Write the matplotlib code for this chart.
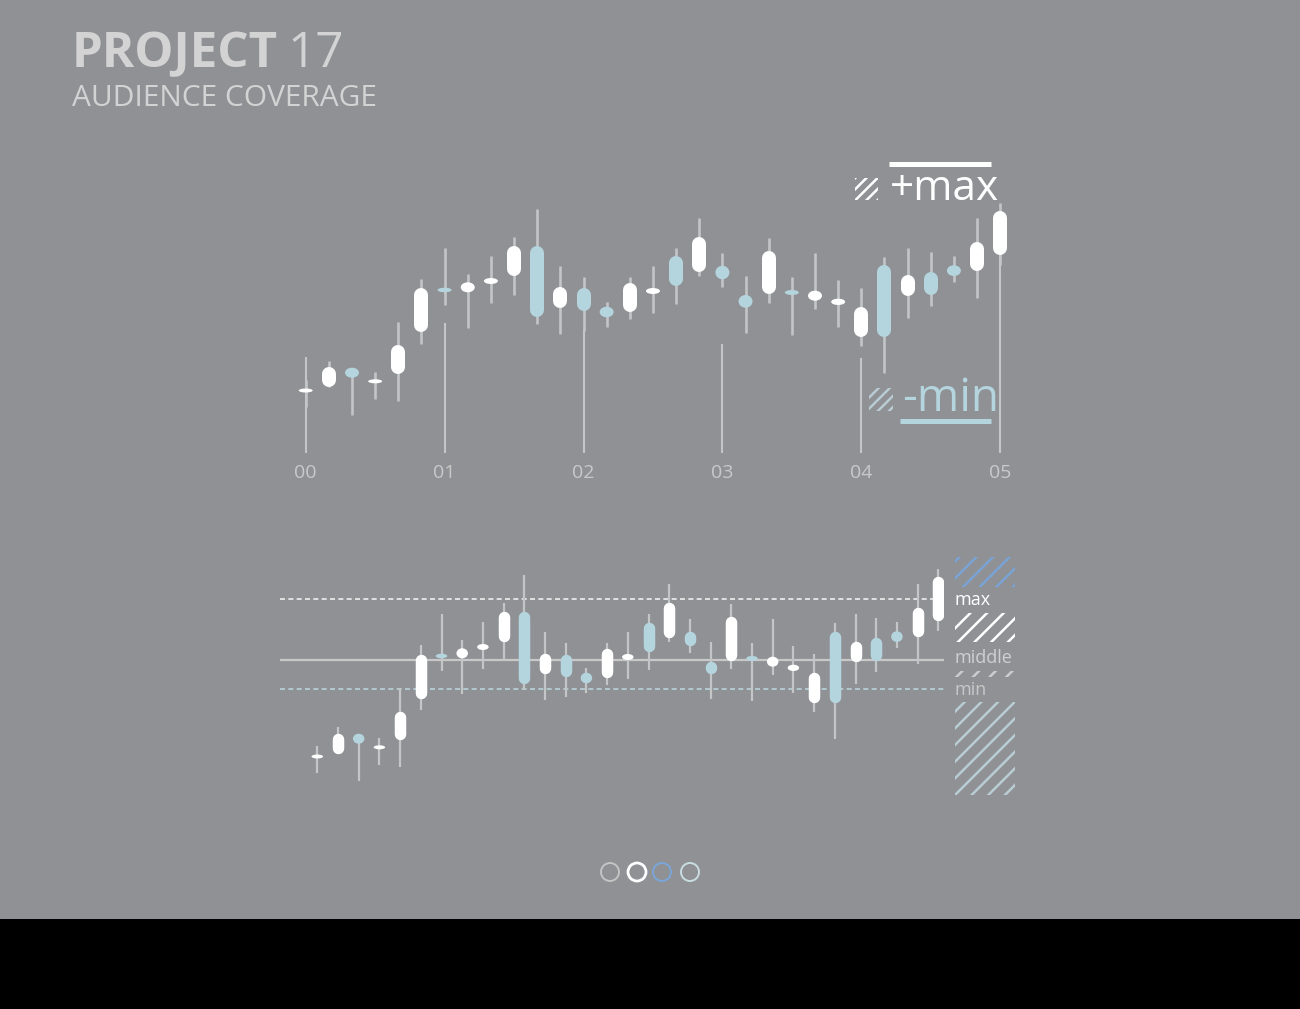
import matplotlib
matplotlib.use('Agg')
import matplotlib.pyplot as plt
from matplotlib.patches import Rectangle, Ellipse

plt.rcParams['font.family'] = ['Open Sans', 'DejaVu Sans']
plt.rcParams['hatch.linewidth'] = 1.8

# ---------------- colours ----------------
BG = '#8f9195'
WHITE = '#ffffff'
BLUE = '#b4d4de'
WICK = '#c4c5c7'
LABEL = '#c9c9c9'
TITLE = '#d3d3d3'

# ---------------- text ----------------
title_main = 'PROJECT'
title_num = '17'
subtitle = 'AUDIENCE COVERAGE'
max_label = '+max'
min_label = '-min'
legend_labels = ['max', 'middle', 'min']

# ---------------- data ----------------
period_labels = ['00', '01', '02', '03', '04', '05']
period_index = [0, 6, 12, 18, 24, 30]
guide_top = [103, 137, 131, 116, 102, 205]
guide_bottom = 7

opens = [67.5, 72.7, 92.3, 76.7, 86, 127.7, 172.3, 167.7, 176, 184.3,
         214.3, 152.3, 171.7, 153.3, 148.3, 166, 204, 188.3, 194.3, 165,
         165.7, 170, 159.3, 155, 123.3, 195, 164.3, 188.3, 194.7, 189.3, 205]
closes = [71.5, 92.7, 82.3, 80.7, 115, 171.7, 167.7, 177.7, 182, 214.3,
          142.7, 172.7, 149.3, 142.7, 177.3, 172, 174.3, 223.3, 180.7, 152.3,
          209.3, 165, 169.3, 161.3, 153.3, 123.3, 185, 165, 184, 218.3, 249.3]
highs = [80, 99, 92.3, 88.3, 138.3, 180.7, 211.7, 186, 204, 222.7,
         251, 194.3, 182.7, 158.3, 182.7, 194.3, 212.3, 241.7, 207.3, 184,
         221.7, 182.7, 206.7, 180, 171.7, 202.7, 211.7, 208.3, 204, 241.7, 257.3]
lows = [53, 72.7, 45, 60.7, 59, 116, 155, 131.7, 157.3, 165,
        136, 126, 129.3, 133.3, 141, 146.7, 155.7, 184.3, 172.7, 126.7,
        156.7, 125, 150.7, 132.7, 114.3, 86.7, 141.7, 154, 178, 162.3, 195]

level_max = 227
level_middle = 166
level_min = 136.7

W, H = 1300, 1009
fig = plt.figure(figsize=(W / 100, H / 100), dpi=100, facecolor=BG)

# overlay axes in pixel coordinates for decorations
ax0 = fig.add_axes([0, 0, 1, 1], zorder=0)
ax0.set_xlim(0, W)
ax0.set_ylim(H, 0)
ax0.axis('off')


def px_axes(x0, x1, y0, y1):
    return fig.add_axes([x0 / W, 1 - y1 / H, (x1 - x0) / W, (y1 - y0) / H], zorder=2)


def draw_candles(ax, body_px, px_per_idx, wick_lw):
    w = body_px / px_per_idx
    for i in range(len(opens)):
        o, c = opens[i], closes[i]
        lo_b, hi_b = min(o, c), max(o, c)
        col = WHITE if c >= o else BLUE
        ax.vlines(i, lows[i], highs[i], color=WICK, lw=wick_lw, zorder=2)
        h = hi_b - lo_b
        if h > body_px * 1.05:
            ax.plot([i, i], [lo_b + body_px / 2, hi_b - body_px / 2], color=col,
                    lw=body_px * 0.72, solid_capstyle='round', zorder=3)
        else:
            ax.add_patch(Ellipse((i, (lo_b + hi_b) / 2), w, max(h, 4), color=col,
                                 lw=0, zorder=3))


# ---------------- top chart ----------------
top_step = 23.15
ax1 = px_axes(280, 1030, 150, 460)
ax1.set_xlim(-(305.7 - 280) / top_step, (1030 - 305.7) / top_step)
ax1.set_ylim(0, 310)
ax1.axis('off')
ax1.vlines(period_index, guide_bottom, guide_top, color=WICK, lw=1.5, zorder=1)
draw_candles(ax1, 14, top_step, 1.9)
for idx, lab in zip(period_index, period_labels):
    ax1.text(idx, -13, lab, ha='center', va='center', fontsize=14, color=LABEL,
             clip_on=False)

# ---------------- bottom chart ----------------
bot_step = 20.7
ax2 = px_axes(280, 944, 540, 800)
ax2.set_xlim(-(317.3 - 280) / bot_step, (944 - 317.3) / bot_step)
ax2.set_ylim(26, 286)
ax2.axis('off')
ax2.axhline(level_max, color='#eeeeee', lw=1.2, ls=(0, (3, 2)), zorder=1)
ax2.axhline(level_middle, color='#c8c8c8', lw=1.6, zorder=1)
ax2.axhline(level_min, color='#b9d2da', lw=1.2, ls=(0, (3, 2)), zorder=1)
draw_candles(ax2, 11.5, bot_step, 1.6)

# ---------------- titles ----------------
t1 = ax0.text(72, 67, title_main, fontsize=35.5, fontweight='bold', color=TITLE, va='baseline')
ax0.annotate(title_num, xy=(1, 0), xycoords=t1, xytext=(7, 0), textcoords='offset points',
             fontsize=35.5, color=TITLE, va='bottom', ha='left')
ax0.text(72, 106, subtitle, fontsize=21.5, color=TITLE, va='baseline')

# ---------------- +max / -min annotations ----------------
ax0.plot([889, 991], [164, 164], color=WHITE, lw=3.6, solid_capstyle='butt')
ax0.add_patch(Rectangle((855, 178), 23, 22, fill=False, hatch='///', edgecolor=WHITE, lw=0))
ax0.text(999, 200, max_label, fontsize=30.5, color=WHITE, ha='right', va='baseline')
ax0.plot([900, 991], [421, 421], color=BLUE, lw=3.6, solid_capstyle='butt')
ax0.add_patch(Rectangle((869, 388), 24, 23, fill=False, hatch='///', edgecolor='#b9cbd3', lw=0))
ax0.text(999, 411, min_label, fontsize=33, color=BLUE, ha='right', va='baseline')

# ---------------- legend of bottom chart ----------------
ax0.add_patch(Rectangle((955, 557), 60, 30, fill=False, hatch='//', edgecolor='#7aa3d6', lw=0))
ax0.add_patch(Rectangle((955, 613), 60, 29, fill=False, hatch='//', edgecolor=WHITE, lw=0))
ax0.add_patch(Rectangle((955, 671), 60, 6, fill=False, hatch='//', edgecolor='#cccccc', lw=0))
ax0.add_patch(Rectangle((955, 702), 60, 93, fill=False, hatch='//', edgecolor='#b9cdd5', lw=0))
ax0.text(955, 600, legend_labels[0], fontsize=13, color=WHITE, va='center')
ax0.text(955, 658, legend_labels[1], fontsize=13, color='#d0d0d0', va='center')
ax0.text(955, 690, legend_labels[2], fontsize=13, color='#c8c8c8', va='center')

# ---------------- page dots ----------------
ax0.scatter([610, 637, 662, 690], [872] * 4, s=168, facecolors='none',
            edgecolors=['#c4c4c4', '#ffffff', '#7aa5d8', '#c9dde0'],
            linewidths=[1.4, 2.0, 1.4, 1.4], zorder=3)

# ---------------- footer band ----------------
ax0.add_patch(Rectangle((0, 919), W, H - 919, color='black', lw=0))

fig.savefig('out.png', dpi=100, facecolor=BG)
